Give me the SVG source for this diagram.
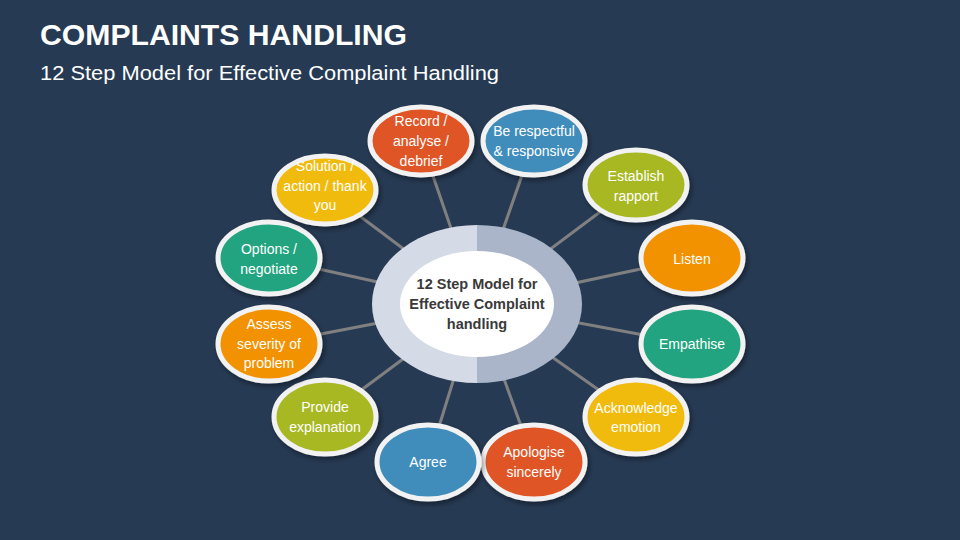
<svg xmlns="http://www.w3.org/2000/svg" width="960" height="540" viewBox="0 0 960 540">
<defs>
<filter id="sh" x="-20%" y="-20%" width="140%" height="150%">
<feDropShadow dx="2" dy="3" stdDeviation="2.5" flood-color="#000" flood-opacity="0.4"/>
</filter>
<clipPath id="lh"><rect x="0" y="0" width="477" height="540"/></clipPath>
<clipPath id="rh"><rect x="477" y="0" width="483" height="540"/></clipPath>
</defs>
<style>
.n ellipse{stroke:#F2F2F2;stroke-width:5;filter:url(#sh)}
.n text{font-family:"Liberation Sans","Open Sans",sans-serif;font-size:14px;fill:#fff;text-anchor:middle}
.red{fill:#E05426}.blue{fill:#3F8DBB}.green{fill:#A8B824}.orange{fill:#F39200}.teal{fill:#20A480}.yellow{fill:#F0BB0F}
#connectors line{stroke:#808080;stroke-width:3}
.ttl{font-family:"Liberation Sans","Open Sans",sans-serif;fill:#fff}
</style>
<rect width="960" height="540" fill="#263A53"/>
<text class="ttl" x="40" y="45" font-size="30" font-weight="bold" textLength="367" lengthAdjust="spacingAndGlyphs">COMPLAINTS HANDLING</text>
<text class="ttl" x="40" y="80" font-size="20" textLength="459" lengthAdjust="spacingAndGlyphs">12 Step Model for Effective Complaint Handling</text>
<g id="connectors">
<line x1="421" y1="141" x2="477" y2="304"/>
<line x1="534" y1="141" x2="477" y2="304"/>
<line x1="636" y1="185" x2="477" y2="304"/>
<line x1="692" y1="258" x2="477" y2="304"/>
<line x1="692" y1="344" x2="477" y2="304"/>
<line x1="637" y1="417" x2="477" y2="304"/>
<line x1="534" y1="462" x2="477" y2="304"/>
<line x1="428" y1="462" x2="477" y2="304"/>
<line x1="325" y1="417" x2="477" y2="304"/>
<line x1="269" y1="344" x2="477" y2="304"/>
<line x1="269" y1="258" x2="477" y2="304"/>
<line x1="325" y1="190" x2="477" y2="304"/>
</g>
<g id="center">
<ellipse cx="477" cy="304" rx="105" ry="79" fill="#D4DBE6" clip-path="url(#lh)"/>
<ellipse cx="477" cy="304" rx="105" ry="79" fill="#ABB5C9" clip-path="url(#rh)"/>
<ellipse cx="477" cy="304" rx="77" ry="53" fill="#fff"/>
<text x="477" y="289" font-family="Liberation Sans,Open Sans,sans-serif" font-size="14.5" font-weight="bold" fill="#3A3A3A" text-anchor="middle">12 Step Model for</text>
<text x="477" y="309" font-family="Liberation Sans,Open Sans,sans-serif" font-size="14.5" font-weight="bold" fill="#3A3A3A" text-anchor="middle">Effective Complaint</text>
<text x="477" y="329" font-family="Liberation Sans,Open Sans,sans-serif" font-size="14.5" font-weight="bold" fill="#3A3A3A" text-anchor="middle">handling</text>
</g>
<g id="record" class="n"><ellipse class="red" cx="421" cy="141" rx="51" ry="34"/><text x="421" y="126">Record /</text><text x="421" y="146">analyse /</text><text x="421" y="166">debrief</text></g>
<g id="respect" class="n"><ellipse class="blue" cx="534" cy="141" rx="51" ry="34"/><text x="534" y="136">Be respectful</text><text x="534" y="156">&amp; responsive</text></g>
<g id="rapport" class="n"><ellipse class="green" cx="636" cy="185" rx="51" ry="35"/><text x="636" y="181">Establish</text><text x="636" y="201">rapport</text></g>
<g id="listen" class="n"><ellipse class="orange" cx="692" cy="258" rx="51" ry="36"/><text x="692" y="264">Listen</text></g>
<g id="empathise" class="n"><ellipse class="teal" cx="692" cy="344" rx="51" ry="37"/><text x="692" y="349">Empathise</text></g>
<g id="acknowledge" class="n"><ellipse class="yellow" cx="636" cy="417" rx="51" ry="37"/><text x="636" y="413">Acknowledge</text><text x="636" y="432">emotion</text></g>
<g id="apologise" class="n"><ellipse class="red" cx="534" cy="462" rx="51" ry="37"/><text x="534" y="457">Apologise</text><text x="534" y="477">sincerely</text></g>
<g id="agree" class="n"><ellipse class="blue" cx="428" cy="462" rx="51" ry="37"/><text x="428" y="467">Agree</text></g>
<g id="explain" class="n"><ellipse class="green" cx="325" cy="417" rx="51" ry="37"/><text x="325" y="412">Provide</text><text x="325" y="432">explanation</text></g>
<g id="assess" class="n"><ellipse class="orange" cx="269" cy="344" rx="51" ry="37"/><text x="269" y="329">Assess</text><text x="269" y="349">severity of</text><text x="269" y="368">problem</text></g>
<g id="options" class="n"><ellipse class="teal" cx="269" cy="258" rx="51" ry="36"/><text x="269" y="254">Options /</text><text x="269" y="274">negotiate</text></g>
<g id="solution" class="n"><ellipse class="yellow" cx="325" cy="190" rx="51" ry="34"/><text x="325" y="171">Solution /</text><text x="325" y="191">action / thank</text><text x="325" y="210">you</text></g>
</svg>
